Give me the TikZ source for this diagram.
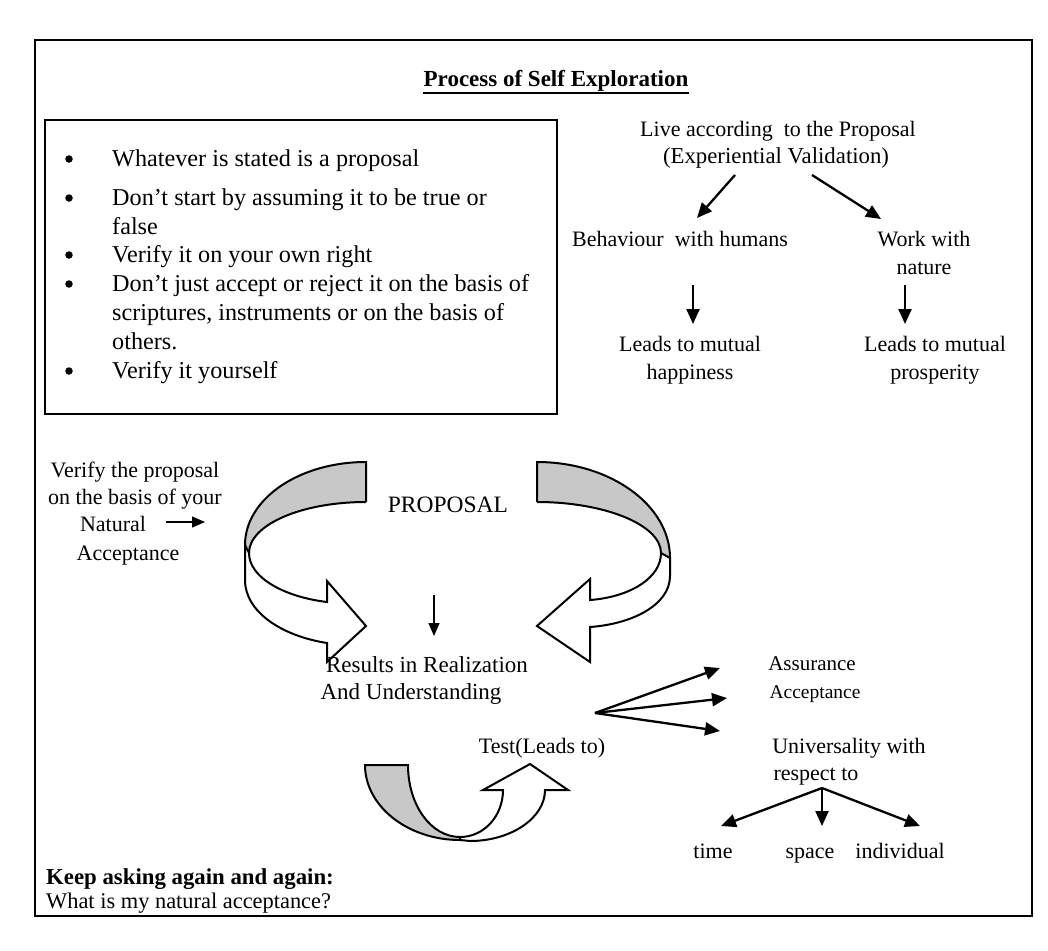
\documentclass[tikz,border=0pt]{standalone}
\usepackage{fontspec}
\setmainfont{Liberation Serif}
\usetikzlibrary{arrows.meta}
\definecolor{ribgray}{RGB}{200,200,200}
\begin{document}
\begin{tikzpicture}[x=1pt,y=-1pt,
  txt/.style={inner sep=0pt, yshift=-2pt, text height=15pt, text depth=4.85pt, font=\fontsize{22}{28.5}\selectfont},
  mtxt/.style={inner sep=0pt, align=center, font=\fontsize{22}{28.5}\selectfont},
  midtxt/.style={inner sep=0pt, yshift=-2pt, text height=15.6pt, text depth=5.1pt, font=\fontsize{23}{28}\selectfont},
  btxt/.style={inner sep=0pt, anchor=west, yshift=-3pt, text height=16.5pt, text depth=5.3pt, font=\fontsize{24.2}{29}\selectfont},
  bul/.style={circle, fill=black, inner sep=0pt, minimum size=7.5pt},
  arr/.style={line width=2.3pt, -{Triangle[length=15pt,width=13pt]}},
  thinarr/.style={line width=1.4pt, -{Triangle[length=13pt,width=11pt]}},
  ribbon/.style={draw=black, line width=2pt, line join=miter},
  frame/.style={draw=black, line width=2pt},
]
\useasboundingbox (0,0) rectangle (1048,950);
\fill[white] (0,0) rectangle (1048,950);
\draw[frame] (35,40) rectangle (1032,916);

% title
\node[inner sep=0pt, text height=15.6pt, text depth=5.1pt, font=\bfseries\fontsize{23}{26}\selectfont] (title) at (556,81) {Process of Self Exploration};
\draw[line width=1.6pt] ([yshift=-1.5pt]title.south west) -- ([yshift=-1.5pt]title.south east);

% bullet box
\draw[frame] (45,120) rectangle (557,414);
\node[bul] (d1) at (69,159) {};
\node[btxt] (b1) at (112,158) {Whatever is stated is a proposal};
\node[bul] (d2) at (69,198) {};
\node[btxt] (b2) at (112,197) {Don’t start by assuming it to be true or};
\node[btxt] (b2b) at (112,226) {false};
\node[bul] (d3) at (69,255) {};
\node[btxt] (b3) at (112,254) {Verify it on your own right};
\node[bul] (d4) at (69,284) {};
\node[btxt] (b4) at (112,283) {Don’t just accept or reject it on the basis of};
\node[btxt] (b4b) at (112,312) {scriptures, instruments or on the basis of};
\node[btxt] (b4c) at (112,341) {others.};
\node[bul] (d5) at (69,371) {};
\node[btxt] (b5) at (112,370) {Verify it yourself};

% right top tree
\node[txt] (live) at (778,129) {Live according\ \ to the Proposal};
\node[txt, font=\fontsize{22.8}{28.5}\selectfont] (exp) at (776,156) {(Experiential Validation)};
\coordinate (e1) at (735,175);
\coordinate (e2) at (812,175);
\node[txt] (beh) at (680,239) {Behaviour\ \ with humans};
\node[mtxt] (work) at (924,253) {Work with\\nature};
\coordinate (h1) at (697,218);
\coordinate (w1) at (881,219);
\draw[arr] (e1) -- (h1);
\draw[arr] (e2) -- (w1);
\coordinate (h2) at (693,285);
\coordinate (h3) at (693,324);
\coordinate (w2) at (905,285);
\coordinate (w3) at (905,324);
\draw[arr] (h2) -- (h3);
\draw[arr] (w2) -- (w3);
\node[mtxt] (lh) at (690,360) {Leads to mutual\\happiness};
\node[mtxt] (lp) at (935,360) {Leads to mutual\\prosperity};

% verify text
\node[txt] (v1) at (135,470) {Verify the proposal};
\node[txt] (v2) at (135,497) {on the basis of your};
\node[txt] (v3) at (113,524) {Natural};
\node[txt] (v4) at (128,553) {Acceptance};
\coordinate (va) at (166,522);
\coordinate (vb) at (205,522);
\draw[thinarr] (va) -- (vb);

% left ribbon
\fill[ribgray] (366,462) .. controls (299,462) and (245,499) .. (245,545)
  -- (249,553) .. controls (249,525) and (301,502) .. (366,502) -- cycle;
\draw[ribbon] (366,502) -- (366,462) .. controls (299,462) and (245,499) .. (245,545);
\draw[ribbon] (249,553) .. controls (249,525) and (301,502) .. (366,502);
\draw[ribbon, fill=white] (245,545) -- (245,580) .. controls (245,612) and (282,636) .. (327,643)
  -- (327,662) -- (366,626) -- (327,581) -- (327,602)
  .. controls (285,597) and (249,578) .. (249,553) -- cycle;

% right ribbon
\fill[ribgray] (537,462) .. controls (610,462) and (670,505) .. (670,558)
  -- (661,553) .. controls (661,525) and (605,502) .. (537,502) -- cycle;
\draw[ribbon] (537,502) -- (537,462) .. controls (610,462) and (670,505) .. (670,558);
\draw[ribbon] (661,553) .. controls (661,525) and (605,502) .. (537,502);
\draw[ribbon, fill=white] (670,558) -- (670,576) .. controls (670,605) and (632,624) .. (590,627)
  -- (590,662) -- (537,626) -- (590,579) -- (590,600)
  .. controls (630,597) and (661,578) .. (661,553) -- cycle;

\node[midtxt, font=\fontsize{23.5}{28}\selectfont] (prop) at (448,505) {PROPOSAL};
\coordinate (p1) at (434,595);
\coordinate (p2) at (434,636);
\draw[thinarr] (p1) -- (p2);

\node[midtxt] (res) at (427,665) {Results in Realization};
\node[midtxt] (und) at (411,692) {And Understanding};

% fan to assurance
\coordinate (f0) at (595,713);
\coordinate (f1) at (720,668);
\coordinate (f2) at (727,698);
\coordinate (f3) at (720,731);
\draw[arr] (f0) -- (f1);
\draw[arr] (f0) -- (f2);
\draw[arr] (f0) -- (f3);
\node[inner sep=0pt, yshift=-2pt, text height=14.3pt, text depth=4.5pt, font=\fontsize{21}{24}\selectfont] (assur) at (812,664) {Assurance};
\node[inner sep=0pt, yshift=-2pt, text height=13.3pt, text depth=4.3pt, font=\fontsize{19.5}{22}\selectfont] (accept) at (815,692) {Acceptance};
\node[txt] (univ) at (849,746) {Universality with};
\node[txt] (resp) at (816,773) {respect to};

% fan to time/space/individual
\coordinate (g0) at (822,788);
\coordinate (g1) at (721,826);
\coordinate (g2) at (822,826);
\coordinate (g3) at (920,826);
\draw[arr] (g0) -- (g1);
\draw[arr] (g0) -- (g2);
\draw[arr] (g0) -- (g3);
\node[txt] (time) at (713,851) {time};
\node[txt] (space) at (810,851) {space};
\node[txt] (indiv) at (900,851) {individual};

% U arrow
\node[txt] (test) at (542,746) {Test(Leads to)};
\fill[ribgray] (365,765) -- (408,765) .. controls (408,805) and (431,837) .. (460,837)
  -- (460,840) .. controls (407.5,840) and (365,806) .. (365,765) -- cycle;
\draw[ribbon] (460,840) .. controls (407.5,840) and (365,806) .. (365,765) -- (408,765)
  .. controls (408,805) and (431,837) .. (460,837);
\draw[ribbon, fill=white] (460,837) .. controls (484,837) and (503,816) .. (503,790)
  -- (483,790) -- (530,764) -- (568,790) -- (545,790)
  .. controls (545,818) and (511,841) .. (470,841) -- (460,840) -- cycle;

% bottom text
\node[inner sep=0pt, anchor=west, text height=15.5pt, text depth=5pt, font=\bfseries\fontsize{22.8}{26}\selectfont] (keep) at (46,879) {Keep asking again and again:};
\node[inner sep=0pt, anchor=west, text height=15.2pt, text depth=4.9pt, font=\fontsize{22.4}{26}\selectfont] (what) at (46,903) {What is my natural acceptance?};
\end{tikzpicture}
\end{document}
